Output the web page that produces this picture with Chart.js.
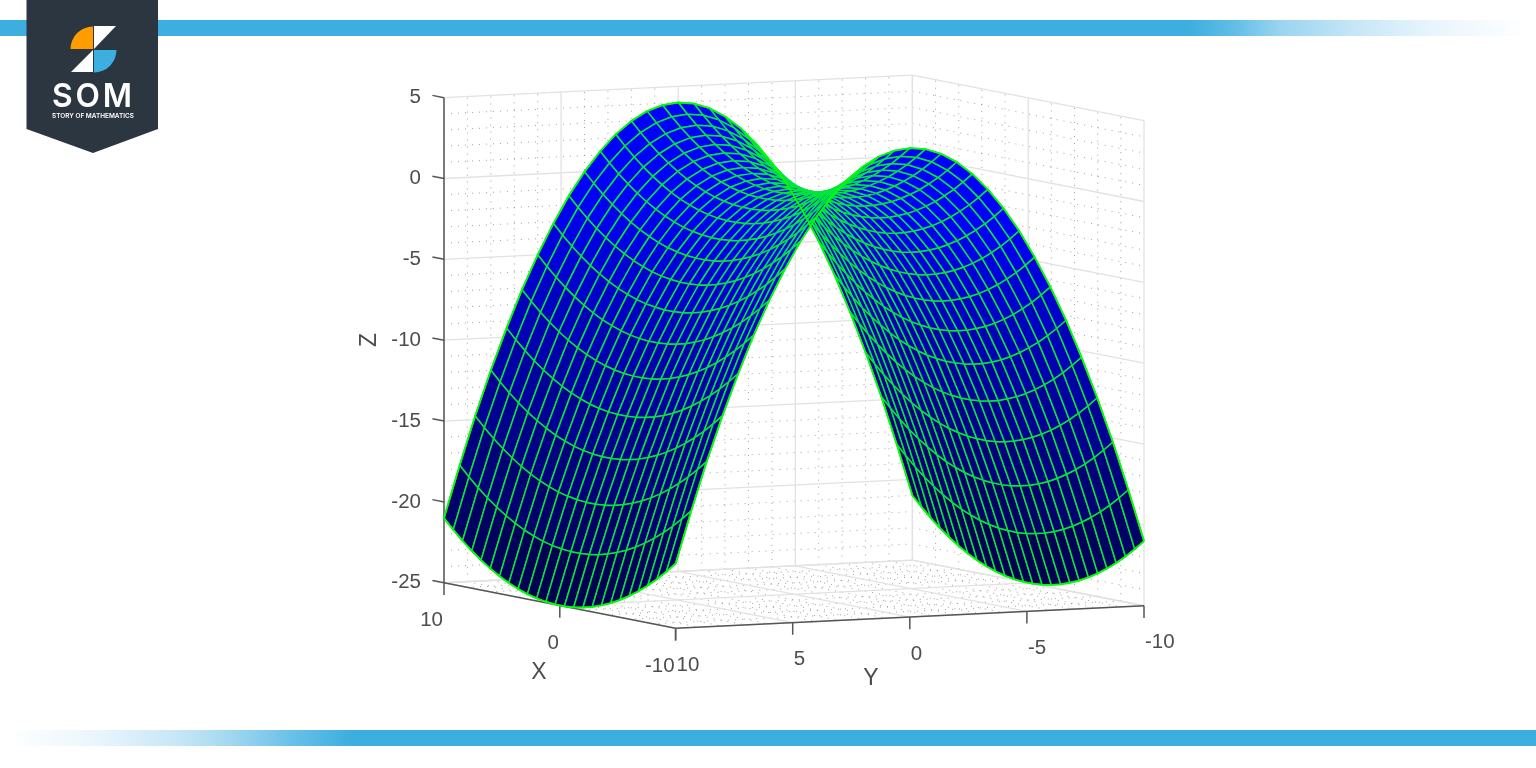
<!DOCTYPE html>
<html>
<head>
<meta charset="utf-8">
<title>Surface</title>
<script src="https://cdn.jsdelivr.net/npm/chart.js@4/dist/chart.umd.min.js"></script>
<style>
html,body{margin:0;padding:0;background:#fff;overflow:hidden}
#wrap{position:relative;width:1536px;height:768px}
#barTop,#barBottom{position:absolute;left:0;width:1536px;height:16px}
#barTop{top:20px;background:linear-gradient(to right,#3cafe0 0,#3cafe0 1190px,#62bee6 1235px,#9ad4f0 1280px,#c5e6f6 1353px,#e8f5fc 1433px,#fff 1525px)}
#barBottom{top:730px;background:linear-gradient(to right,#fff 10px,#e8f5fc 100px,#c5e6f6 180px,#a5d9f1 227px,#6dc2e8 287px,#3cafe0 350px,#3cafe0 1536px)}
canvas{position:absolute;left:0;top:0;filter:blur(.5px)}
#logo{position:absolute;left:0;top:0;filter:blur(.3px)}
</style>
</head>
<body>
<div id="wrap">
<div id="barTop"></div>
<div id="barBottom"></div>
<canvas id="surfaceChart" width="1536" height="768"></canvas>
<svg id="logo" width="170" height="160">
<polygon points="26.5,0 158,0 158,129 93,153 26.5,129" fill="#2b3640"/>
<path d="M93,49 L70.5,49 A22.5,22.5 0 0 1 93,26.5 Z" fill="#ff9d00"/>
<polygon points="94,26 116,26 94,49" fill="#fff"/>
<polygon points="71,72 93,50 93,72" fill="#fff"/>
<path d="M94,50 L116.5,50 A22.5,22.5 0 0 1 94,72.5 Z" fill="#3cafe0"/>
<text x="93.5" y="107" text-anchor="middle" font-family="Inter" font-weight="600" font-size="33" letter-spacing="3" fill="#fff" textLength="83" lengthAdjust="spacingAndGlyphs">SOM</text>
<text x="93" y="118" text-anchor="middle" font-family="Inter" font-weight="600" font-size="6" fill="#fff" textLength="82" lengthAdjust="spacingAndGlyphs">STORY OF MATHEMATICS</text>
</svg>
</div>
<script>
var xValues = [-10,-9.2,-8.4,-7.6,-6.8,-6,-5.2,-4.4,-3.6,-2.8,-2,-1.2,-0.4,0.4,1.2,2,2.8,3.6,4.4,5.2,6,6.8,7.6,8.4,9.2,10];
var yValues = [-10,-9.33,-8.67,-8,-7.33,-6.67,-6,-5.33,-4.67,-4,-3.33,-2.67,-2,-1.33,-0.67,0,0.67,1.33,2,2.67,3.33,4,4.67,5.33,6,6.67,7.33,8,8.67,9.33,10];
// one row per x value, read along y
var zRows = [
[-21,-17.78,-14.78,-12,-9.44,-7.11,-5,-3.11,-1.44,0,1.22,2.22,3,3.56,3.89,4,3.89,3.56,3,2.22,1.22,0,-1.44,-3.11,-5,-7.11,-9.44,-12,-14.78,-17.78,-21],
[-21.61,-18.39,-15.39,-12.61,-10.05,-7.72,-5.61,-3.72,-2.05,-0.61,0.61,1.61,2.39,2.95,3.28,3.39,3.28,2.95,2.39,1.61,0.61,-0.61,-2.05,-3.72,-5.61,-7.72,-10.05,-12.61,-15.39,-18.39,-21.61],
[-22.18,-18.96,-15.96,-13.18,-10.62,-8.29,-6.18,-4.29,-2.62,-1.18,0.04,1.04,1.82,2.38,2.71,2.82,2.71,2.38,1.82,1.04,0.04,-1.18,-2.62,-4.29,-6.18,-8.29,-10.62,-13.18,-15.96,-18.96,-22.18],
[-22.69,-19.47,-16.47,-13.69,-11.13,-8.8,-6.69,-4.8,-3.13,-1.69,-0.47,0.53,1.31,1.87,2.2,2.31,2.2,1.87,1.31,0.53,-0.47,-1.69,-3.13,-4.8,-6.69,-8.8,-11.13,-13.69,-16.47,-19.47,-22.69],
[-23.15,-19.93,-16.93,-14.15,-11.59,-9.26,-7.15,-5.26,-3.59,-2.15,-0.93,0.07,0.85,1.41,1.74,1.85,1.74,1.41,0.85,0.07,-0.93,-2.15,-3.59,-5.26,-7.15,-9.26,-11.59,-14.15,-16.93,-19.93,-23.15],
[-23.56,-20.34,-17.34,-14.56,-12,-9.67,-7.56,-5.67,-4,-2.56,-1.34,-0.34,0.44,1,1.33,1.44,1.33,1,0.44,-0.34,-1.34,-2.56,-4,-5.67,-7.56,-9.67,-12,-14.56,-17.34,-20.34,-23.56],
[-23.92,-20.7,-17.7,-14.92,-12.36,-10.03,-7.92,-6.03,-4.36,-2.92,-1.7,-0.7,0.08,0.64,0.97,1.08,0.97,0.64,0.08,-0.7,-1.7,-2.92,-4.36,-6.03,-7.92,-10.03,-12.36,-14.92,-17.7,-20.7,-23.92],
[-24.23,-21.01,-18.01,-15.23,-12.67,-10.34,-8.23,-6.34,-4.67,-3.23,-2.01,-1.01,-0.23,0.33,0.66,0.77,0.66,0.33,-0.23,-1.01,-2.01,-3.23,-4.67,-6.34,-8.23,-10.34,-12.67,-15.23,-18.01,-21.01,-24.23],
[-24.48,-21.26,-18.26,-15.48,-12.92,-10.59,-8.48,-6.59,-4.92,-3.48,-2.26,-1.26,-0.48,0.08,0.41,0.52,0.41,0.08,-0.48,-1.26,-2.26,-3.48,-4.92,-6.59,-8.48,-10.59,-12.92,-15.48,-18.26,-21.26,-24.48],
[-24.69,-21.47,-18.47,-15.69,-13.13,-10.8,-8.69,-6.8,-5.13,-3.69,-2.47,-1.47,-0.69,-0.13,0.2,0.31,0.2,-0.13,-0.69,-1.47,-2.47,-3.69,-5.13,-6.8,-8.69,-10.8,-13.13,-15.69,-18.47,-21.47,-24.69],
[-24.84,-21.62,-18.62,-15.84,-13.28,-10.95,-8.84,-6.95,-5.28,-3.84,-2.62,-1.62,-0.84,-0.28,0.05,0.16,0.05,-0.28,-0.84,-1.62,-2.62,-3.84,-5.28,-6.95,-8.84,-10.95,-13.28,-15.84,-18.62,-21.62,-24.84],
[-24.94,-21.72,-18.72,-15.94,-13.38,-11.05,-8.94,-7.05,-5.38,-3.94,-2.72,-1.72,-0.94,-0.38,-0.05,0.06,-0.05,-0.38,-0.94,-1.72,-2.72,-3.94,-5.38,-7.05,-8.94,-11.05,-13.38,-15.94,-18.72,-21.72,-24.94],
[-24.99,-21.77,-18.77,-15.99,-13.43,-11.1,-8.99,-7.1,-5.43,-3.99,-2.77,-1.77,-0.99,-0.43,-0.1,0.01,-0.1,-0.43,-0.99,-1.77,-2.77,-3.99,-5.43,-7.1,-8.99,-11.1,-13.43,-15.99,-18.77,-21.77,-24.99],
[-24.99,-21.77,-18.77,-15.99,-13.43,-11.1,-8.99,-7.1,-5.43,-3.99,-2.77,-1.77,-0.99,-0.43,-0.1,0.01,-0.1,-0.43,-0.99,-1.77,-2.77,-3.99,-5.43,-7.1,-8.99,-11.1,-13.43,-15.99,-18.77,-21.77,-24.99],
[-24.94,-21.72,-18.72,-15.94,-13.38,-11.05,-8.94,-7.05,-5.38,-3.94,-2.72,-1.72,-0.94,-0.38,-0.05,0.06,-0.05,-0.38,-0.94,-1.72,-2.72,-3.94,-5.38,-7.05,-8.94,-11.05,-13.38,-15.94,-18.72,-21.72,-24.94],
[-24.84,-21.62,-18.62,-15.84,-13.28,-10.95,-8.84,-6.95,-5.28,-3.84,-2.62,-1.62,-0.84,-0.28,0.05,0.16,0.05,-0.28,-0.84,-1.62,-2.62,-3.84,-5.28,-6.95,-8.84,-10.95,-13.28,-15.84,-18.62,-21.62,-24.84],
[-24.69,-21.47,-18.47,-15.69,-13.13,-10.8,-8.69,-6.8,-5.13,-3.69,-2.47,-1.47,-0.69,-0.13,0.2,0.31,0.2,-0.13,-0.69,-1.47,-2.47,-3.69,-5.13,-6.8,-8.69,-10.8,-13.13,-15.69,-18.47,-21.47,-24.69],
[-24.48,-21.26,-18.26,-15.48,-12.92,-10.59,-8.48,-6.59,-4.92,-3.48,-2.26,-1.26,-0.48,0.08,0.41,0.52,0.41,0.08,-0.48,-1.26,-2.26,-3.48,-4.92,-6.59,-8.48,-10.59,-12.92,-15.48,-18.26,-21.26,-24.48],
[-24.23,-21.01,-18.01,-15.23,-12.67,-10.34,-8.23,-6.34,-4.67,-3.23,-2.01,-1.01,-0.23,0.33,0.66,0.77,0.66,0.33,-0.23,-1.01,-2.01,-3.23,-4.67,-6.34,-8.23,-10.34,-12.67,-15.23,-18.01,-21.01,-24.23],
[-23.92,-20.7,-17.7,-14.92,-12.36,-10.03,-7.92,-6.03,-4.36,-2.92,-1.7,-0.7,0.08,0.64,0.97,1.08,0.97,0.64,0.08,-0.7,-1.7,-2.92,-4.36,-6.03,-7.92,-10.03,-12.36,-14.92,-17.7,-20.7,-23.92],
[-23.56,-20.34,-17.34,-14.56,-12,-9.67,-7.56,-5.67,-4,-2.56,-1.34,-0.34,0.44,1,1.33,1.44,1.33,1,0.44,-0.34,-1.34,-2.56,-4,-5.67,-7.56,-9.67,-12,-14.56,-17.34,-20.34,-23.56],
[-23.15,-19.93,-16.93,-14.15,-11.59,-9.26,-7.15,-5.26,-3.59,-2.15,-0.93,0.07,0.85,1.41,1.74,1.85,1.74,1.41,0.85,0.07,-0.93,-2.15,-3.59,-5.26,-7.15,-9.26,-11.59,-14.15,-16.93,-19.93,-23.15],
[-22.69,-19.47,-16.47,-13.69,-11.13,-8.8,-6.69,-4.8,-3.13,-1.69,-0.47,0.53,1.31,1.87,2.2,2.31,2.2,1.87,1.31,0.53,-0.47,-1.69,-3.13,-4.8,-6.69,-8.8,-11.13,-13.69,-16.47,-19.47,-22.69],
[-22.18,-18.96,-15.96,-13.18,-10.62,-8.29,-6.18,-4.29,-2.62,-1.18,0.04,1.04,1.82,2.38,2.71,2.82,2.71,2.38,1.82,1.04,0.04,-1.18,-2.62,-4.29,-6.18,-8.29,-10.62,-13.18,-15.96,-18.96,-22.18],
[-21.61,-18.39,-15.39,-12.61,-10.05,-7.72,-5.61,-3.72,-2.05,-0.61,0.61,1.61,2.39,2.95,3.28,3.39,3.28,2.95,2.39,1.61,0.61,-0.61,-2.05,-3.72,-5.61,-7.72,-10.05,-12.61,-15.39,-18.39,-21.61],
[-21,-17.78,-14.78,-12,-9.44,-7.11,-5,-3.11,-1.44,0,1.22,2.22,3,3.56,3.89,4,3.89,3.56,3,2.22,1.22,0,-1.44,-3.11,-5,-7.11,-9.44,-12,-14.78,-17.78,-21]
];
var xTicks = [10,0,-10];
var yTicks = [10,5,0,-5,-10];
var zTicks = [5,0,-5,-10,-15,-20,-25];
var xMinor = [8,6,4,2,-2,-4,-6,-8];
var yMinor = [9,8,7,6,4,3,2,1,-1,-2,-3,-4,-6,-7,-8,-9];
var zMinor = [4,3,2,1,-1,-2,-3,-4,-6,-7,-8,-9,-11,-12,-13,-14,-16,-17,-18,-19,-21,-22,-23,-24];
var zShade = [-25,-20,-15,-10,-5,-1,2];
var blueShade = [70,105,140,175,215,255,255];

// view of the box, pixels per data unit
function project(x,y,z){
    return {x:794-11.58*x-23.42*y, y:594.25-2.28*x+1.13*y-16.17*(z+25)};
}
function faceColor(z){
    var i=0;
    while(i<zShade.length-2 && z>zShade[i+1])i++;
    var t=(z-zShade[i])/(zShade[i+1]-zShade[i]);
    t=Math.max(0,Math.min(1,t));
    return "rgb(0,0,"+Math.round(blueShade[i]+t*(blueShade[i+1]-blueShade[i]))+")";
}
function line3d(a,b,color,width,dash){
    return {
        data:[project(a[0],a[1],a[2]),project(b[0],b[1],b[2])],
        showLine:true,fill:false,pointRadius:0,
        borderColor:color,borderWidth:width,borderDash:dash||[]
    };
}
var datasets=[];
// bright rim of the sheet, on top of everything
var nx=xValues.length-1,ny=yValues.length-1;
function rim(points){
    datasets.push({data:points,showLine:true,fill:false,pointRadius:0,borderColor:"#00ff00",borderWidth:1.8});
}
rim(yValues.map(function(y,j){return project(xValues[0],y,zRows[0][j]);}));
rim(yValues.map(function(y,j){return project(xValues[nx],y,zRows[nx][j]);}));
rim(xValues.map(function(x,i){return project(x,yValues[0],zRows[i][0]);}));
rim(xValues.map(function(x,i){return project(x,yValues[ny],zRows[i][ny]);}));
// index 0 is painted last, so nearest faces go first
for(var i=0;i<nx;i++){
    for(var j=ny-1;j>=0;j--){
        var z1=zRows[i][j],z2=zRows[i+1][j],z3=zRows[i+1][j+1],z4=zRows[i][j+1];
        datasets.push({
            data:[project(xValues[i],yValues[j],z1),project(xValues[i+1],yValues[j],z2),
                  project(xValues[i+1],yValues[j+1],z3),project(xValues[i],yValues[j+1],z4),
                  project(xValues[i],yValues[j],z1)],
            showLine:true,fill:"shape",pointRadius:0,
            backgroundColor:faceColor((z1+z2+z3+z4)/4),
            borderColor:"#00e63c",borderWidth:1.5,borderJoinStyle:"round"
        });
    }
}
var AXIS="#555555",MAJOR="#e2e2e2",DOT="rgba(120,120,120,.7)",DASH=[1,6];
// axes and tick marks
datasets.push(line3d([10,10,-25],[10,10,5],AXIS,1.5));
datasets.push(line3d([10,10,-25],[-10,10,-25],AXIS,1.5));
datasets.push(line3d([-10,10,-25],[-10,-10,-25],AXIS,1.5));
zTicks.forEach(function(z){datasets.push(line3d([10,10,z],[11,10,z],AXIS,1.5));});
xTicks.forEach(function(x){datasets.push(line3d([x,10,-25],[x,10,-25.75],AXIS,1.5));});
yTicks.forEach(function(y){datasets.push(line3d([-10,y,-25],[-10,y,-25.75],AXIS,1.5));});
// major grid
zTicks.forEach(function(z){
    datasets.push(line3d([10,10,z],[10,-10,z],MAJOR,1.3));
    datasets.push(line3d([10,-10,z],[-10,-10,z],MAJOR,1.3));
});
yTicks.forEach(function(y){
    datasets.push(line3d([10,y,-25],[10,y,5],MAJOR,1.3));
    datasets.push(line3d([10,y,-25],[-10,y,-25],MAJOR,1.3));
});
xTicks.forEach(function(x){
    datasets.push(line3d([x,-10,-25],[x,-10,5],MAJOR,1.3));
    datasets.push(line3d([x,-10,-25],[x,10,-25],MAJOR,1.3));
});
// minor dotted grid
zMinor.forEach(function(z){
    datasets.push(line3d([10,10,z],[10,-10,z],DOT,1,DASH));
    datasets.push(line3d([10,-10,z],[-10,-10,z],DOT,1,DASH));
});
yMinor.forEach(function(y){
    datasets.push(line3d([10,y,-25],[10,y,5],DOT,1,DASH));
    datasets.push(line3d([10,y,-25],[-10,y,-25],DOT,1,DASH));
});
xMinor.forEach(function(x){
    datasets.push(line3d([x,-10,-25],[x,-10,5],DOT,1,DASH));
    datasets.push(line3d([x,-10,-25],[x,10,-25],DOT,1,DASH));
});

var boxLabels={
    id:"boxLabels",
    afterDraw:function(chart){
        var ctx=chart.ctx,sx=chart.scales.x,sy=chart.scales.y;
        function put(p,dx,dy,txt,align){
            ctx.textAlign=align;
            ctx.fillText(txt,sx.getPixelForValue(p.x)+dx,sy.getPixelForValue(p.y)+dy);
        }
        ctx.save();
        ctx.fillStyle="#4d4d4d";
        ctx.textBaseline="middle";
        ctx.font="20.5px 'Liberation Sans'";
        zTicks.forEach(function(z){put(project(10,10,z),-23,0,String(z),"right");});
        xTicks.forEach(function(x){put(project(x,10,-25),-1,38,String(x),"right");});
        yTicks.forEach(function(y){put(project(-10,y,-25),1,37,String(y),"left");});
        ctx.font="23px 'Liberation Sans'";
        put({x:539,y:673},0,0,"X","center");
        put({x:871,y:679},0,0,"Y","center");
        ctx.translate(sx.getPixelForValue(370),sy.getPixelForValue(340));
        ctx.rotate(-Math.PI/2);
        ctx.textAlign="center";
        ctx.fillText("Z",0,0);
        ctx.restore();
    }
};

var ctx=document.getElementById("surfaceChart");
var myChart=new Chart(ctx,{
    type:"scatter",
    data:{datasets:datasets},
    options:{
        responsive:false,animation:false,events:[],devicePixelRatio:1,
        layout:{padding:0},
        plugins:{legend:{display:false},tooltip:{enabled:false}},
        scales:{
            x:{type:"linear",min:0,max:1536,display:false},
            y:{type:"linear",min:0,max:768,reverse:true,display:false}
        }
    },
    plugins:[boxLabels]
});
</script>
</body>
</html>
